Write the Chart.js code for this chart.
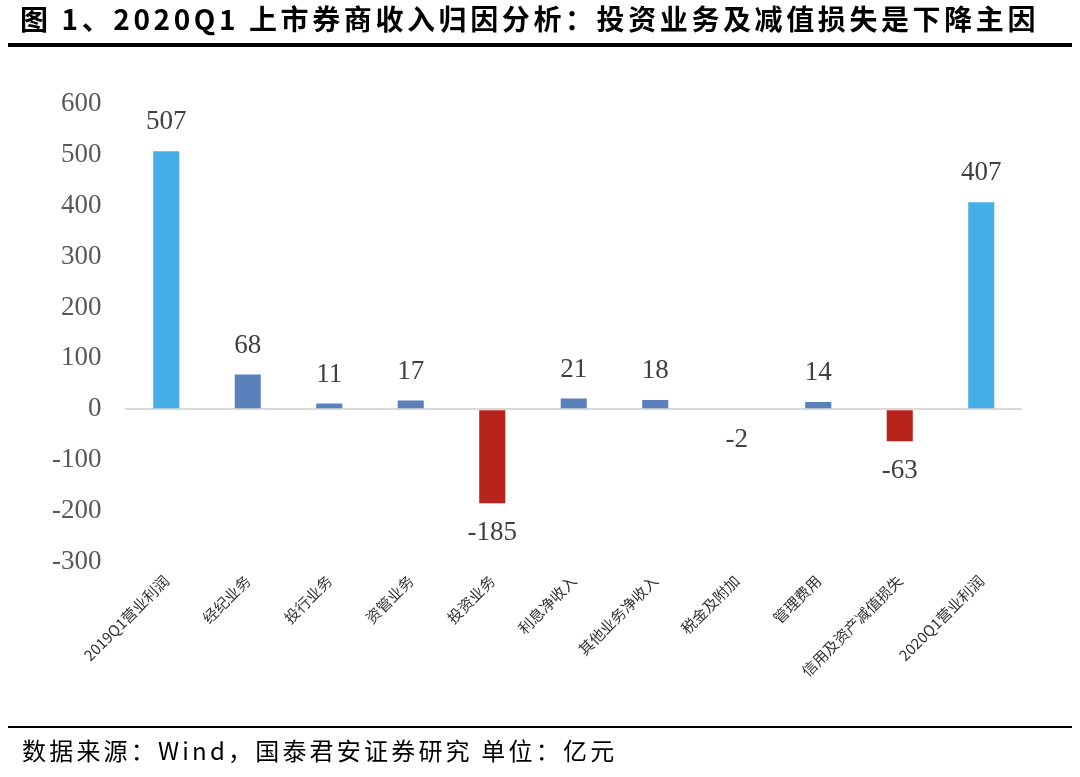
<!DOCTYPE html>
<html>
<head>
<meta charset="utf-8">
<script src="https://cdn.jsdelivr.net/npm/chart.js@4"></script>
<style>
  body { margin: 0; background: #fff; }
  #wrap { position: relative; width: 1080px; height: 777px; overflow: hidden; }
  #title { position: absolute; left: 20px; top: -2px; font: bold 28px "Noto Sans CJK SC", sans-serif; color: #000; letter-spacing: 3.6px; white-space: nowrap; }
  #topLine { position: absolute; left: 8px; width: 1064px; top: 43px; height: 4px; background: #000; }
  #bottomLine { position: absolute; left: 8px; width: 1064px; top: 726px; height: 2px; background: #000; }
  #source { position: absolute; left: 22px; top: 732px; font: 24px "Noto Sans CJK SC", sans-serif; color: #000; letter-spacing: 3.2px; white-space: nowrap; }
  canvas { position: absolute; left: 0; top: 0; }
</style>
</head>
<body>
<div id="wrap">
  <canvas id="waterChart" width="1080" height="777"></canvas>
  <div id="title">图 1、2020Q1 上市券商收入归因分析：投资业务及减值损失是下降主因</div>
  <div id="topLine"></div>
  <div id="bottomLine"></div>
  <div id="source">数据来源：Wind，国泰君安证券研究 单位：亿元</div>
</div>
<script>
const categories = ["2019Q1营业利润", "经纪业务", "投行业务", "资管业务", "投资业务", "利息净收入", "其他业务净收入", "税金及附加", "管理费用", "信用及资产减值损失", "2020Q1营业利润"];
const values = [507, 68, 11, 17, -185, 21, 18, -2, 14, -63, 407];
const yTicks = [-300, -200, -100, 0, 100, 200, 300, 400, 500, 600];

const colorTotal = "#47AFE8";
const colorUp = "#5A81BC";
const colorDown = "#B8241C";

function barColors() {
    return values.map((v, i) => {
        if (i == 0 || i == values.length - 1) return colorTotal;
        return v < 0 ? colorDown : colorUp;
    });
}

// draw the numbers above / below each bar
const valueLabels = {
    id: "valueLabels",
    afterDatasetsDraw(chart) {
        const ctx = chart.ctx;
        const meta = chart.getDatasetMeta(0);
        ctx.save();
        ctx.font = '27px "Liberation Serif", serif';
        ctx.fillStyle = "#404040";
        ctx.textAlign = "center";
        ctx.textBaseline = "middle";
        meta.data.forEach((bar, i) => {
            let v = values[i];
            let y = v >= 0 ? bar.y - 29 : bar.y + 30;
            ctx.fillText(String(v), bar.x, y);
        });
        ctx.restore();
    }
};

const ctx = document.getElementById("waterChart");
new Chart(ctx, {
    type: "bar",
    data: {
        labels: categories,
        datasets: [{
            data: values,
            backgroundColor: barColors(),
            barPercentage: 0.32,
            categoryPercentage: 1.0
        }]
    },
    options: {
        responsive: false,
        animation: false,
        layout: { padding: { top: 104, left: 28, right: 58, bottom: 95 } },
        plugins: { legend: { display: false }, tooltip: { enabled: false } },
        scales: {
            x: {
                grid: { display: false },
                border: { display: false },
                ticks: {
                    minRotation: 45,
                    maxRotation: 45,
                    padding: 2,
                    color: "#333",
                    font: { family: '"Noto Sans CJK SC", sans-serif', size: 15 }
                }
            },
            y: {
                min: -300,
                max: 600,
                afterBuildTicks: (axis) => { axis.ticks = yTicks.map(v => ({ value: v })); },
                border: { display: false },
                grid: {
                    drawTicks: false,
                    lineWidth: 2,
                    color: (c) => c.tick && c.tick.value === 0 ? "#d9d9d9" : "rgba(0,0,0,0)"
                },
                ticks: {
                    padding: 24,
                    color: "#595959",
                    font: { family: '"Liberation Serif", serif', size: 27 }
                }
            }
        }
    },
    plugins: [valueLabels]
});
</script>
</body>
</html>
